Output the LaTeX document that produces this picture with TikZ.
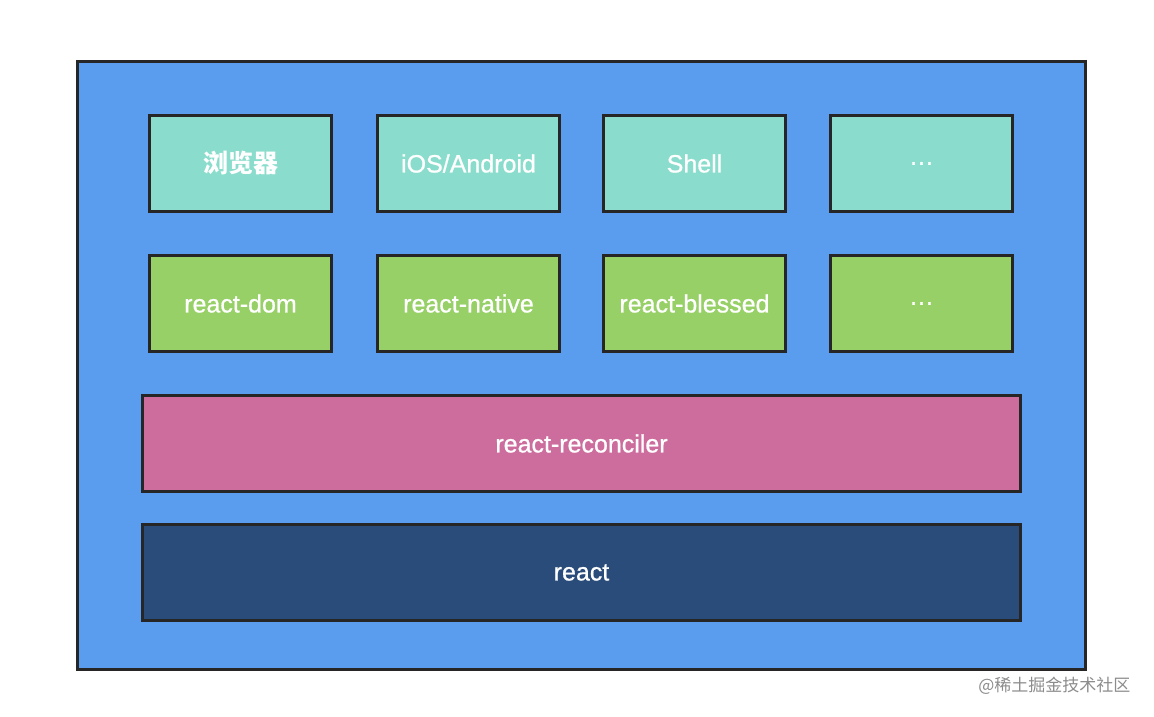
\documentclass[tikz,border=0pt]{standalone}
\usepackage{fontspec}
\setmainfont{Liberation Sans}[BoldFont=Liberation Sans,BoldFeatures={FakeBold=0.8}]
\newfontfamily\cjk{Noto Sans CJK SC}
\definecolor{outerblue}{HTML}{5A9CEE}
\definecolor{tealc}{HTML}{8ADDCC}
\definecolor{lgreen}{HTML}{97D066}
\definecolor{pinkc}{HTML}{CD6D9E}
\definecolor{navy}{HTML}{2A4C7A}
\begin{document}
\begin{tikzpicture}[x=1pt,y=-1pt,
  box/.style={draw=black!85,line width=3pt,text=white,font=\fontsize{25}{30}\selectfont\bfseries,inner sep=0pt,anchor=north west},
  small/.style={box,minimum width=182,minimum height=96},
  wide/.style={box,minimum width=878,minimum height=96}
  ]
\useasboundingbox[fill=white] (0,0) rectangle (1154,716);
\node[box,fill=outerblue,minimum width=1008,minimum height=608] (outer) at (76,60) {};
\node[small,fill=tealc] (ta) at (148,114) {\cjk 浏览器};
\node[small,fill=tealc] (tb) at (376,114) {iOS/Android};
\node[small,fill=tealc] (tc) at (602,114) {Shell};
\node[small,fill=tealc] (td) at (829,114) {.\kern1pt.\kern1pt.};
\node[small,fill=lgreen] (ga) at (148,254) {react-dom};
\node[small,fill=lgreen] (gb) at (376,254) {react-native};
\node[small,fill=lgreen] (gc) at (602,254) {react-blessed};
\node[small,fill=lgreen] (gd) at (829,254) {.\kern1pt.\kern1pt.};
\node[wide,fill=pinkc] (rec) at (141,394) {react-reconciler};
\node[wide,fill=navy] (react) at (141,523) {react};
\node[text=black!45,font=\cjk\fontsize{17}{20}\selectfont,anchor=east] (wm) at (1134,686) {@稀土掘金技术社区};
\end{tikzpicture}
\end{document}
